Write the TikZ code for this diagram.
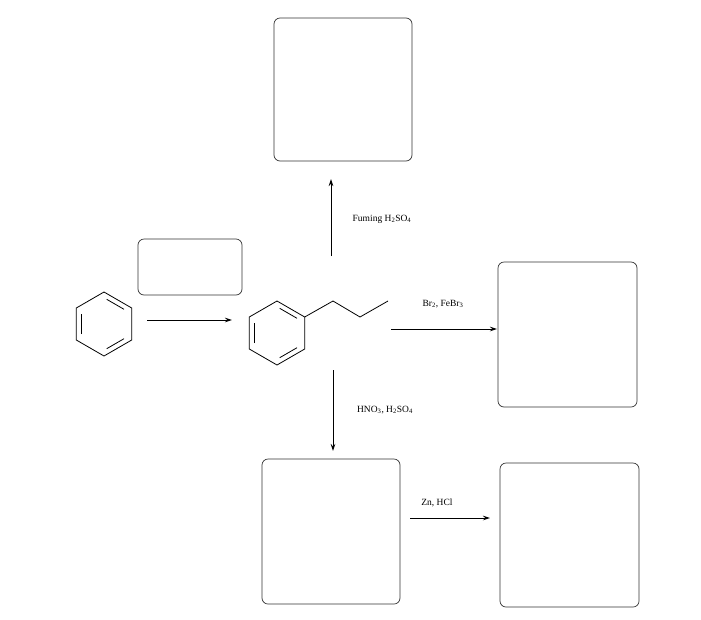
\documentclass[tikz,border=0pt]{standalone}
\usepackage{fontspec}
\setmainfont{Liberation Serif}
\usetikzlibrary{arrows.meta}
\begin{document}
\begin{tikzpicture}[x=1pt,y=-1pt,line width=0.8pt,
  boxy/.style={draw=black!80,rounded corners=6pt,line width=0.7pt},
  arr/.style={-{Stealth[length=7pt,width=4.5pt]}},
  lab/.style={font=\fontsize{9.5}{10}\selectfont,inner sep=0pt},
  ring/.pic={
    \draw (0,-32) -- (27.7,-16) -- (27.7,16) -- (0,32) -- (-27.7,16) -- (-27.7,-16) -- cycle;
    \draw (2.7,-24.7) -- (20,-14.7);
    \draw (20,14.7) -- (2.7,24.7);
    \draw (-22.7,10) -- (-22.7,-10);
  }]
\useasboundingbox (0,0) rectangle (701,619);
\pic (benz) at (104,324) {ring};
\pic (prop) at (277,333) {ring};
\coordinate (c1) at (304.7,317);
\coordinate (c2) at (333,301);
\coordinate (c3) at (360,317);
\coordinate (c4) at (388,301);
\draw (c1) -- (c2) -- (c3) -- (c4);
% boxes
\node[boxy,minimum width=104pt,minimum height=56pt] (bsm) at (190,267) {};
\node[boxy,minimum width=138pt,minimum height=143pt] (btop) at (343,89.5) {};
\node[boxy,minimum width=139pt,minimum height=145pt] (bright) at (567.5,334.5) {};
\node[boxy,minimum width=138pt,minimum height=145pt] (bbot) at (331,531.5) {};
\node[boxy,minimum width=139pt,minimum height=144pt] (bbr) at (569.5,535) {};
% arrows
\coordinate (a1s) at (147,320); \coordinate (a1e) at (232,320);
\draw[arr] (a1s) -- (a1e);
\coordinate (a2s) at (331,256); \coordinate (a2e) at (331,179);
\draw[arr] (a2s) -- (a2e);
\node[lab] (l2) at (382,219) {Fuming H\textsubscript{2}SO\textsubscript{4}};
\coordinate (a3s) at (391,329); \coordinate (a3e) at (497,329);
\draw[arr] (a3s) -- (a3e);
\node[lab] (l3) at (443,304) {Br\textsubscript{2}, FeBr\textsubscript{3}};
\coordinate (a4s) at (333,370); \coordinate (a4e) at (333,451);
\draw[arr] (a4s) -- (a4e);
\node[lab] (l4) at (385,410) {HNO\textsubscript{3}, H\textsubscript{2}SO\textsubscript{4}};
\coordinate (a5s) at (410,518); \coordinate (a5e) at (490,518);
\draw[arr] (a5s) -- (a5e);
\node[lab] (l5) at (437,503) {Zn, HCl};
\end{tikzpicture}
\end{document}
